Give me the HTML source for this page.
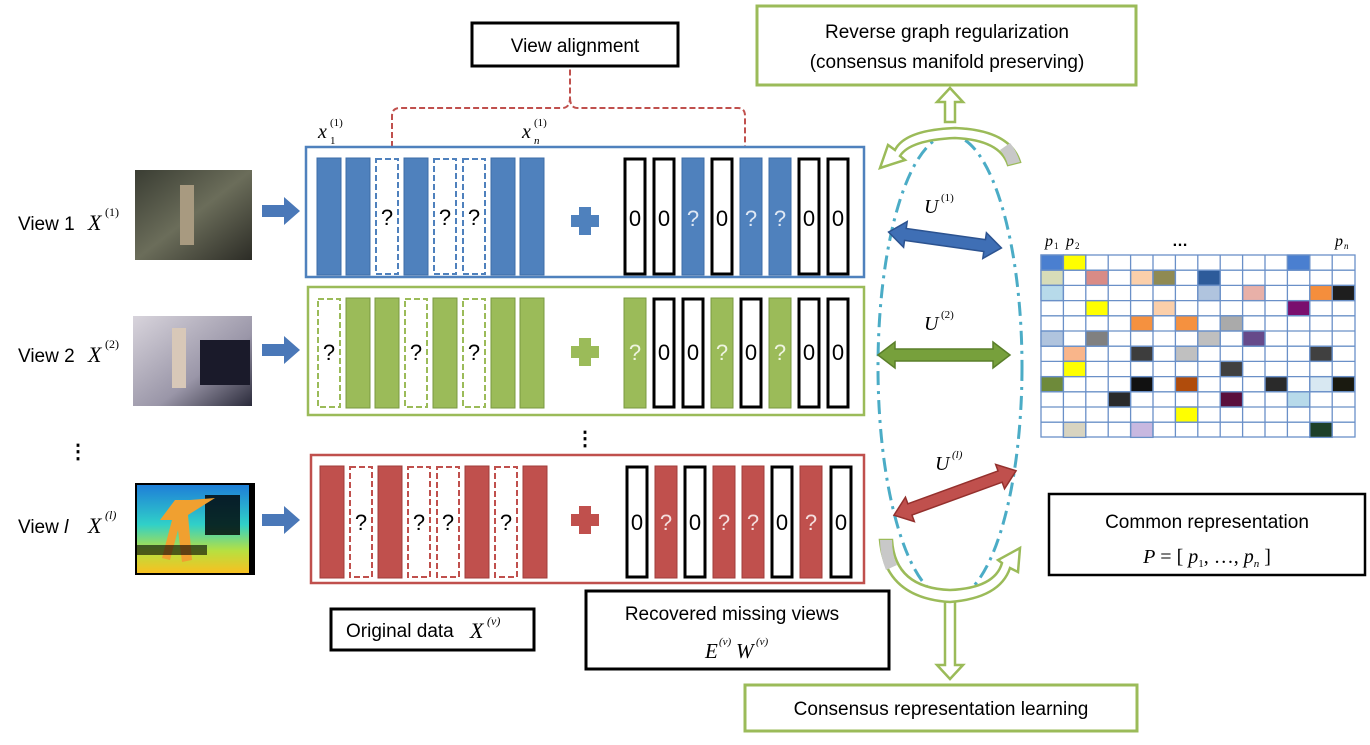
<!DOCTYPE html>
<html><head><meta charset="utf-8"><style>
body{margin:0;background:#fff;width:1370px;height:745px;overflow:hidden}
svg{display:block}
text{font-family:"Liberation Sans",sans-serif}
.m{font-family:"Liberation Serif",serif;font-style:italic}
.s{font-family:"Liberation Serif",serif}
</style></head><body>
<svg width="1370" height="745" viewBox="0 0 1370 745">
<defs>
<linearGradient id="g1" x1="0" y1="0" x2="1" y2="1"><stop offset="0" stop-color="#3a3d33"/><stop offset=".5" stop-color="#6b6d5a"/><stop offset="1" stop-color="#2c2c26"/></linearGradient>
<linearGradient id="g2" x1="0" y1="0" x2="1" y2="1"><stop offset="0" stop-color="#d8d4dc"/><stop offset=".6" stop-color="#9a96a8"/><stop offset="1" stop-color="#2a2a3a"/></linearGradient>
<linearGradient id="g3" x1="0" y1="0" x2="0" y2="1"><stop offset="0" stop-color="#1e7fd8"/><stop offset=".45" stop-color="#30d0c8"/><stop offset=".75" stop-color="#b8e040"/><stop offset="1" stop-color="#f8c020"/></linearGradient>
</defs>

<text x="18" y="230" font-size="19">View 1</text><text x="88" y="230" font-size="22" class="m">X</text><text x="105" y="216" font-size="12" class="s">(1)</text>
<text x="18" y="362" font-size="19">View 2</text><text x="88" y="362" font-size="22" class="m">X</text><text x="105" y="348" font-size="12" class="s">(2)</text>
<text x="68" y="458" font-size="20" font-weight="bold">⋮</text>
<text x="18" y="533" font-size="19">View <tspan font-style="italic">l</tspan></text><text x="88" y="533" font-size="22" class="m">X</text><text x="105" y="519" font-size="12" class="m">(l)</text>

<rect x="135" y="170" width="117" height="90" fill="url(#g1)"/>
<rect x="180" y="185" width="14" height="60" fill="#a89a80"/>
<rect x="133" y="316" width="119" height="90" fill="url(#g2)"/>
<rect x="200" y="340" width="50" height="45" fill="#1a1a2a"/>
<rect x="172" y="328" width="14" height="60" fill="#d8c8b8"/>
<rect x="135" y="483" width="120" height="92" fill="#000"/>
<rect x="137" y="485" width="112" height="88" fill="url(#g3)"/>
<rect x="205" y="495" width="35" height="40" fill="#000" opacity=".8"/>
<path d="M175 500 L190 500 L215 498 L188 515 L192 560 L182 562 L178 530 L170 560 L162 558 L172 520 L160 520Z" fill="#f0a030"/>
<rect x="137" y="545" width="70" height="10" fill="#000" opacity=".6"/>

<g fill="#4a78b8"><path d="M262 205h22v-8l16 14-16 14v-8h-22z"/><path d="M262 344h22v-8l16 14-16 14v-8h-22z"/><path d="M262 514h22v-8l16 14-16 14v-8h-22z"/></g>

<rect x="472" y="23" width="206" height="43" fill="#fff" stroke="#000" stroke-width="3"/>
<text x="575" y="52" font-size="19" text-anchor="middle">View alignment</text>
<path d="M392 147 V116 Q392 108 400 108 H562 Q570 108 570 98 V67 M570 98 Q570 108 578 108 H738 Q745 108 745 116 V147" fill="none" stroke="#c0504d" stroke-width="2" stroke-dasharray="6,3"/>
<text x="318" y="138" font-size="20" class="m">x</text><text x="330" y="144" font-size="11" class="s">1</text><text x="330" y="126" font-size="11" class="s">(1)</text>
<text x="522" y="138" font-size="20" class="m">x</text><text x="534" y="144" font-size="11" class="m">n</text><text x="534" y="126" font-size="11" class="s">(1)</text>

<rect x="306" y="147" width="558" height="130" fill="#fff" stroke="#4f81bd" stroke-width="2.5"/>
<g fill="#4f81bd" stroke="#3d6da8" stroke-width="1">
<rect x="317" y="158" width="24" height="117"/><rect x="346" y="158" width="24" height="117"/><rect x="404" y="158" width="24" height="117"/><rect x="491" y="158" width="24" height="117"/><rect x="520" y="158" width="24" height="117"/>
<rect x="682" y="158" width="22" height="117"/><rect x="740" y="158" width="22" height="117"/><rect x="769" y="158" width="22" height="117"/>
</g>
<g fill="none" stroke="#4f81bd" stroke-width="2" stroke-dasharray="6,3"><rect x="376" y="159" width="22" height="115"/><rect x="434" y="159" width="22" height="115"/><rect x="463" y="159" width="22" height="115"/></g>
<g fill="#fff" stroke="#000" stroke-width="3"><rect x="625" y="159" width="20" height="115"/><rect x="654" y="159" width="20" height="115"/><rect x="712" y="159" width="20" height="115"/><rect x="799" y="159" width="20" height="115"/><rect x="828" y="159" width="20" height="115"/></g>
<g font-size="22" text-anchor="middle"><text x="387" y="225">?</text><text x="445" y="225">?</text><text x="474" y="225">?</text>
<text x="635" y="226">0</text><text x="664" y="226">0</text><text x="722" y="226">0</text><text x="809" y="226">0</text><text x="838" y="226">0</text>
<g fill="#dfe8f4"><text x="693" y="226">?</text><text x="751" y="226">?</text><text x="780" y="226">?</text></g></g>
<path d="M579 207h12v8h8v12h-8v8h-12v-8h-8v-12h8z" fill="#4f81bd"/>

<rect x="308" y="287" width="556" height="128" fill="#fff" stroke="#9bbb59" stroke-width="2.5"/>
<g fill="#9bbb59" stroke="#7a9a40" stroke-width="1">
<rect x="346" y="298" width="24" height="110"/><rect x="375" y="298" width="24" height="110"/><rect x="433" y="298" width="24" height="110"/><rect x="491" y="298" width="24" height="110"/><rect x="520" y="298" width="24" height="110"/>
<rect x="624" y="298" width="22" height="110"/><rect x="711" y="298" width="22" height="110"/><rect x="769" y="298" width="22" height="110"/>
</g>
<g fill="none" stroke="#9bbb59" stroke-width="2" stroke-dasharray="6,3"><rect x="318" y="299" width="22" height="108"/><rect x="405" y="299" width="22" height="108"/><rect x="463" y="299" width="22" height="108"/></g>
<g fill="#fff" stroke="#000" stroke-width="3"><rect x="654" y="299" width="20" height="108"/><rect x="683" y="299" width="20" height="108"/><rect x="741" y="299" width="20" height="108"/><rect x="799" y="299" width="20" height="108"/><rect x="828" y="299" width="20" height="108"/></g>
<g font-size="22" text-anchor="middle"><text x="329" y="360">?</text><text x="416" y="360">?</text><text x="474" y="360">?</text>
<text x="664" y="360">0</text><text x="693" y="360">0</text><text x="751" y="360">0</text><text x="809" y="360">0</text><text x="838" y="360">0</text>
<g fill="#eef4e0"><text x="635" y="360">?</text><text x="722" y="360">?</text><text x="780" y="360">?</text></g></g>
<path d="M579 338h12v8h8v12h-8v8h-12v-8h-8v-12h8z" fill="#9bbb59"/>
<text x="585" y="445" font-size="20" font-weight="bold" text-anchor="middle">⋮</text>

<rect x="311" y="455" width="553" height="128" fill="#fff" stroke="#c0504d" stroke-width="2.5"/>
<g fill="#c0504d" stroke="#a03c3a" stroke-width="1">
<rect x="320" y="466" width="24" height="112"/><rect x="378" y="466" width="24" height="112"/><rect x="465" y="466" width="24" height="112"/><rect x="523" y="466" width="24" height="112"/>
<rect x="655" y="466" width="22" height="112"/><rect x="713" y="466" width="22" height="112"/><rect x="742" y="466" width="22" height="112"/><rect x="800" y="466" width="22" height="112"/>
</g>
<g fill="none" stroke="#c0504d" stroke-width="2" stroke-dasharray="6,3"><rect x="350" y="467" width="22" height="110"/><rect x="408" y="467" width="22" height="110"/><rect x="437" y="467" width="22" height="110"/><rect x="495" y="467" width="22" height="110"/></g>
<g fill="#fff" stroke="#000" stroke-width="3"><rect x="627" y="467" width="20" height="110"/><rect x="685" y="467" width="20" height="110"/><rect x="772" y="467" width="20" height="110"/><rect x="831" y="467" width="20" height="110"/></g>
<g font-size="22" text-anchor="middle"><text x="361" y="530">?</text><text x="419" y="530">?</text><text x="448" y="530">?</text><text x="506" y="530">?</text>
<text x="637" y="530">0</text><text x="695" y="530">0</text><text x="782" y="530">0</text><text x="841" y="530">0</text>
<g fill="#f4dede"><text x="666" y="530">?</text><text x="724" y="530">?</text><text x="753" y="530">?</text><text x="811" y="530">?</text></g></g>
<path d="M579 506h12v8h8v12h-8v8h-12v-8h-8v-12h8z" fill="#c0504d"/>

<rect x="331" y="609" width="203" height="41" fill="#fff" stroke="#000" stroke-width="3"/>
<text x="346" y="637" font-size="19">Original data</text><text x="470" y="638" font-size="22" class="m">X</text><text x="487" y="625" font-size="12" class="m">(v)</text>
<rect x="586" y="591" width="303" height="78" fill="#fff" stroke="#000" stroke-width="3"/>
<text x="732" y="620" font-size="19" text-anchor="middle">Recovered missing views</text>
<text x="705" y="658" font-size="21" class="m">E</text><text x="719" y="645" font-size="11" class="m">(v)</text><text x="736" y="658" font-size="21" class="m">W</text><text x="756" y="645" font-size="11" class="m">(v)</text>

<ellipse cx="950" cy="367" rx="72" ry="232" fill="none" stroke="#4bacc6" stroke-width="3" stroke-dasharray="14,6,3,6"/>

<rect x="757" y="6" width="379" height="79" fill="#fff" stroke="#9bbb59" stroke-width="3"/>
<text x="947" y="38" font-size="19" text-anchor="middle">Reverse graph regularization</text>
<text x="947" y="68" font-size="19" text-anchor="middle">(consensus  manifold preserving)</text>
<rect x="745" y="685" width="392" height="46" fill="#fff" stroke="#9bbb59" stroke-width="3"/>
<text x="941" y="715" font-size="19" text-anchor="middle">Consensus  representation learning</text>
<path d="M945 122V102h-8l13-14 13 14h-8v20z" fill="#fff" stroke="#9bbb59" stroke-width="2.5"/>
<path d="M945 600V665h-8l13 14 13-14h-8V600z" fill="#fff" stroke="#9bbb59" stroke-width="2.5"/>
<path d="M1020 162 Q1010 130 955 128 Q905 130 895 150 L888 145 L880 168 L905 160 L900 156 Q910 140 955 138 Q1000 140 1008 165 Z" fill="#fff" stroke="#9bbb59" stroke-width="2.5"/>
<path d="M1008 165 L1020 162 Q1016 150 1010 143 L1000 150 Q1006 157 1008 165Z" fill="#c8c8c8"/>
<path d="M880 540 Q885 598 950 602 Q1000 598 1010 568 L1018 572 L1020 548 L998 560 L1002 563 Q995 588 950 590 Q895 588 892 540 Z" fill="#fff" stroke="#9bbb59" stroke-width="2.5"/>
<path d="M880 540 L892 540 Q892 555 897 565 L886 570 Q880 556 880 540Z" fill="#c8c8c8"/>

<g transform="translate(945,240) rotate(8)"><path d="M-57 0 L-40 -13 L-40 -6 L40 -6 L40 -13 L57 0 L40 13 L40 6 L-40 6 L-40 13Z" fill="#3f6fb5" stroke="#2c5390" stroke-width="1.5"/></g>
<path d="M878 355 L895 342 L895 349 L993 349 L993 342 L1010 355 L993 368 L993 361 L895 361 L895 368Z" fill="#77a03c" stroke="#5a7f2a" stroke-width="1.5"/>
<g transform="translate(955,493) rotate(-20)"><path d="M-65 0 L-48 -13 L-48 -6 L48 -6 L48 -13 L65 0 L48 13 L48 6 L-48 6 L-48 13Z" fill="#c0504d" stroke="#94302d" stroke-width="1.5"/></g>
<text x="924" y="213" font-size="20" class="m">U</text><text x="941" y="201" font-size="11" class="s">(1)</text>
<text x="924" y="330" font-size="20" class="m">U</text><text x="941" y="318" font-size="11" class="s">(2)</text>
<text x="935" y="470" font-size="20" class="m">U</text><text x="952" y="458" font-size="11" class="m">(l)</text>

<text x="1045" y="246" font-size="16" class="m">p</text><text x="1054" y="249" font-size="9" class="s">1</text>
<text x="1066" y="246" font-size="16" class="m">p</text><text x="1075" y="249" font-size="9" class="s">2</text>
<text x="1172" y="246" font-size="16" font-weight="bold">…</text>
<text x="1335" y="246" font-size="16" class="m">p</text><text x="1344" y="249" font-size="9" class="m">n</text>
<g stroke="#6a90c8" stroke-width="1.3">
<rect x="1041" y="255" width="314" height="182" fill="#fff"/>
<rect x="1041" y="255" width="22.4" height="15.2" fill="#4a7fd0"/><rect x="1063.4" y="255" width="22.4" height="15.2" fill="#ffff00"/><rect x="1287.4" y="255" width="22.4" height="15.2" fill="#4a7fd0"/>
<rect x="1041" y="270.2" width="22.4" height="15.2" fill="#d7dcb8"/><rect x="1085.8" y="270.2" width="22.4" height="15.2" fill="#d98b86"/><rect x="1130.6" y="270.2" width="22.4" height="15.2" fill="#fbcfaa"/><rect x="1153" y="270.2" width="22.4" height="15.2" fill="#8f8a52"/><rect x="1197.8" y="270.2" width="22.4" height="15.2" fill="#2d5b9a"/>
<rect x="1041" y="285.4" width="22.4" height="15.2" fill="#b7daea"/><rect x="1197.8" y="285.4" width="22.4" height="15.2" fill="#b0c4de"/><rect x="1242.6" y="285.4" width="22.4" height="15.2" fill="#e8b0a8"/><rect x="1309.8" y="285.4" width="22.4" height="15.2" fill="#f58e3c"/><rect x="1332.2" y="285.4" width="22.4" height="15.2" fill="#1e1e1e"/>
<rect x="1085.8" y="300.6" width="22.4" height="15.2" fill="#ffff00"/><rect x="1153" y="300.6" width="22.4" height="15.2" fill="#fbcfaa"/><rect x="1287.4" y="300.6" width="22.4" height="15.2" fill="#7a0f6e"/>
<rect x="1130.6" y="315.8" width="22.4" height="15.2" fill="#f5913f"/><rect x="1175.4" y="315.8" width="22.4" height="15.2" fill="#f5913f"/><rect x="1220.2" y="315.8" width="22.4" height="15.2" fill="#aaaaaa"/>
<rect x="1041" y="331" width="22.4" height="15.2" fill="#b0c4de"/><rect x="1085.8" y="331" width="22.4" height="15.2" fill="#808080"/><rect x="1197.8" y="331" width="22.4" height="15.2" fill="#bfbfbf"/><rect x="1242.6" y="331" width="22.4" height="15.2" fill="#664a8a"/>
<rect x="1063.4" y="346.2" width="22.4" height="15.2" fill="#f9b58a"/><rect x="1130.6" y="346.2" width="22.4" height="15.2" fill="#3d3d3d"/><rect x="1175.4" y="346.2" width="22.4" height="15.2" fill="#c0c0c0"/><rect x="1309.8" y="346.2" width="22.4" height="15.2" fill="#404040"/>
<rect x="1063.4" y="361.4" width="22.4" height="15.2" fill="#ffff00"/><rect x="1220.2" y="361.4" width="22.4" height="15.2" fill="#404040"/>
<rect x="1041" y="376.6" width="22.4" height="15.2" fill="#6e8a3a"/><rect x="1130.6" y="376.6" width="22.4" height="15.2" fill="#111"/><rect x="1175.4" y="376.6" width="22.4" height="15.2" fill="#b04c0c"/><rect x="1265" y="376.6" width="22.4" height="15.2" fill="#2a2a2a"/><rect x="1309.8" y="376.6" width="22.4" height="15.2" fill="#d8e8f2"/><rect x="1332.2" y="376.6" width="22.4" height="15.2" fill="#1a1a10"/>
<rect x="1108.2" y="391.8" width="22.4" height="15.2" fill="#2a2a2a"/><rect x="1220.2" y="391.8" width="22.4" height="15.2" fill="#5a0f3c"/><rect x="1287.4" y="391.8" width="22.4" height="15.2" fill="#b7daea"/>
<rect x="1175.4" y="407" width="22.4" height="15.2" fill="#ffff00"/>
<rect x="1063.4" y="422.2" width="22.4" height="15.2" fill="#d8d4c0"/><rect x="1130.6" y="422.2" width="22.4" height="15.2" fill="#c8b8e0"/><rect x="1309.8" y="422.2" width="22.4" height="15.2" fill="#1e4028"/>
<path fill="none" d="M1063.4 255V437M1085.8 255V437M1108.2 255V437M1130.6 255V437M1153 255V437M1175.4 255V437M1197.8 255V437M1220.2 255V437M1242.6 255V437M1265 255V437M1287.4 255V437M1309.8 255V437M1332.2 255V437M1041 270.2H1355M1041 285.4H1355M1041 300.6H1355M1041 315.8H1355M1041 331H1355M1041 346.2H1355M1041 361.4H1355M1041 376.6H1355M1041 391.8H1355M1041 407H1355M1041 422.2H1355"/>
</g>

<rect x="1049" y="494" width="316" height="81" fill="#fff" stroke="#000" stroke-width="2.5"/>
<text x="1207" y="528" font-size="19" text-anchor="middle">Common representation</text>
<text x="1207" y="563" font-size="20" text-anchor="middle" class="s"><tspan font-style="italic">P</tspan> = [ <tspan font-style="italic">p</tspan><tspan font-size="11" dy="4">1</tspan><tspan dy="-4">, …, </tspan><tspan font-style="italic">p</tspan><tspan font-size="11" dy="4" font-style="italic">n</tspan><tspan dy="-4"> ]</tspan></text>
</svg>
</body></html>
